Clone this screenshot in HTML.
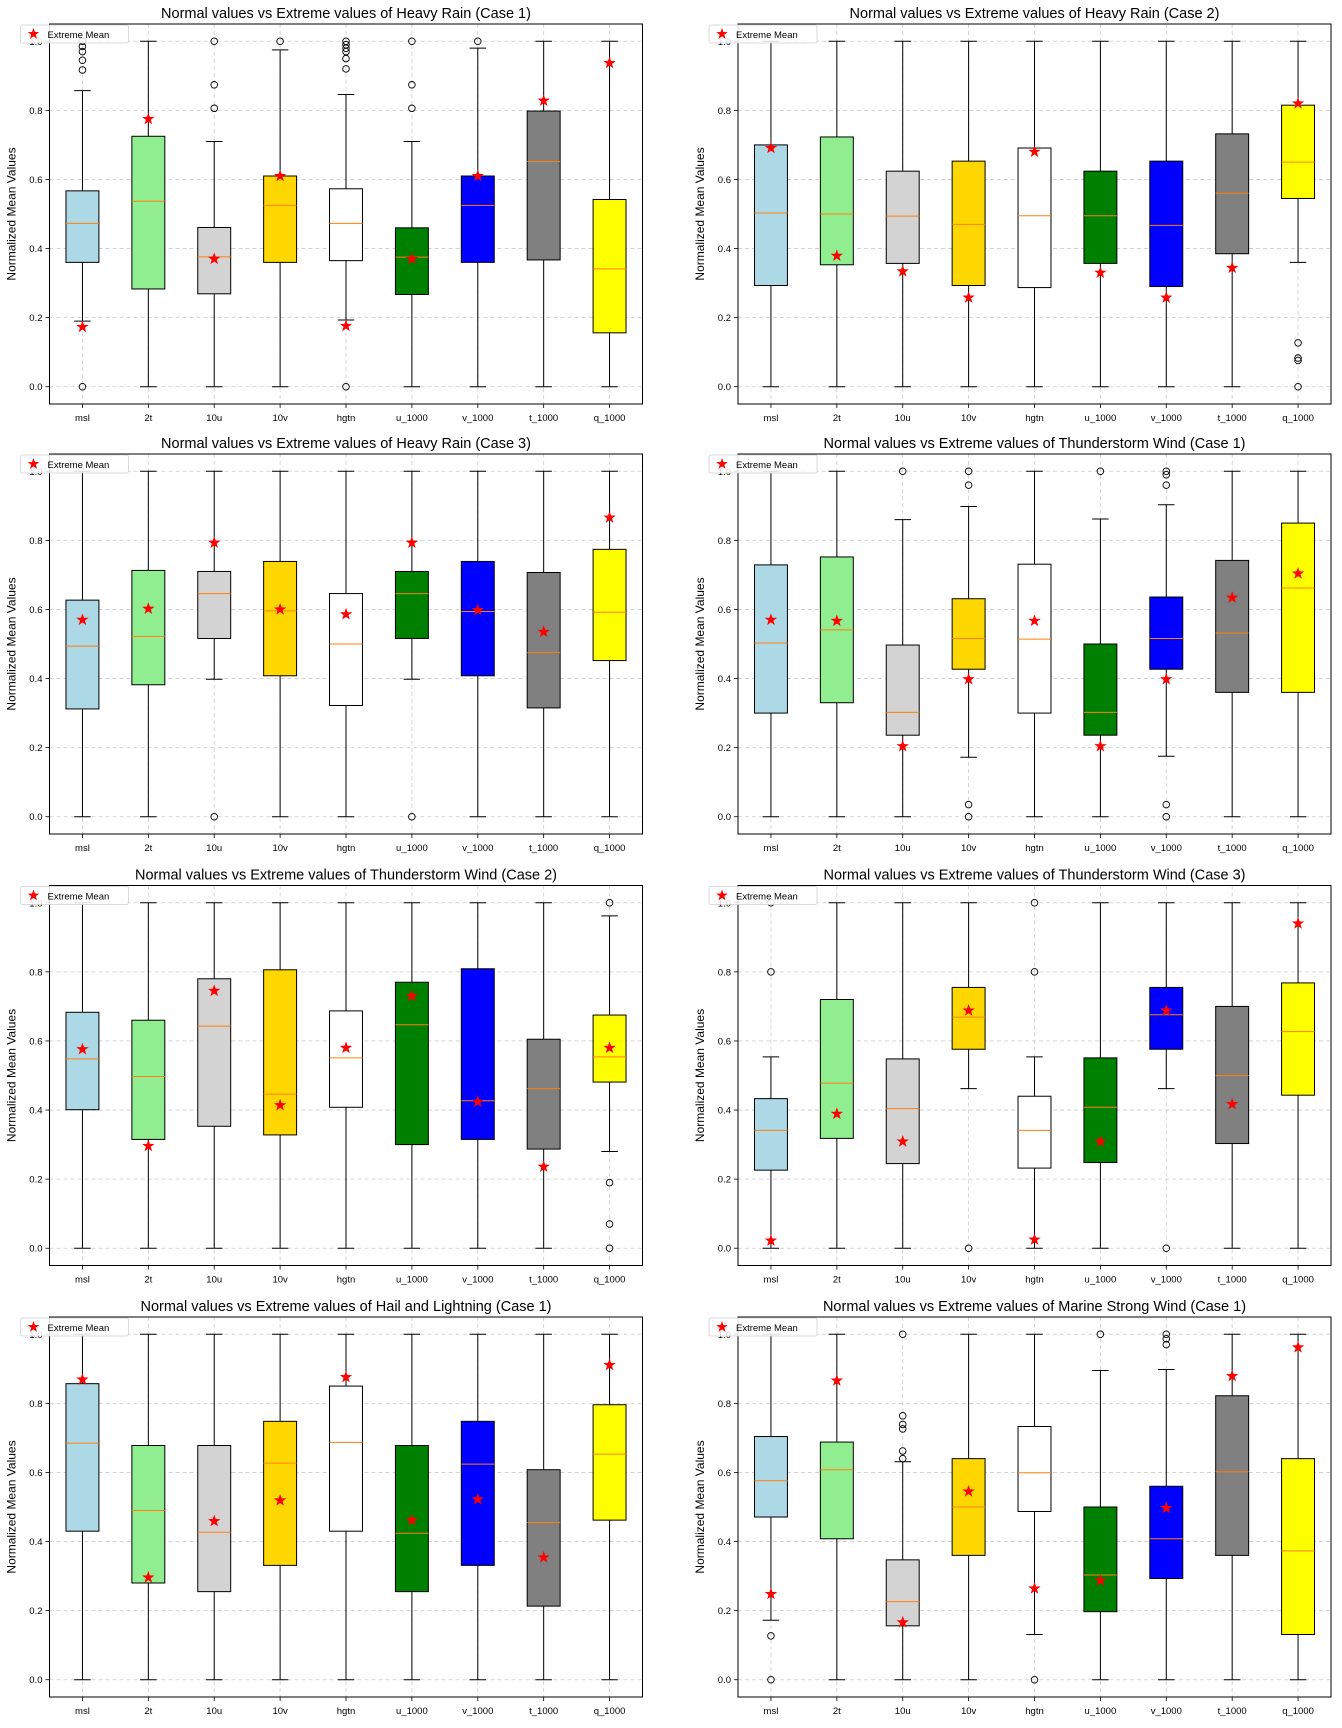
<!DOCTYPE html>
<html><head><meta charset="utf-8">
<style>
html,body{margin:0;padding:0;background:#fff;}
svg{display:block;font-family:"Liberation Sans","DejaVu Sans",sans-serif;}
</style></head>
<body>
<svg id="fig" width="1342" height="1728" viewBox="0 0 1342 1728" xmlns="http://www.w3.org/2000/svg"></svg>
<script>
const categories = ["msl","2t","10u","10v","hgtn","u_1000","v_1000","t_1000","q_1000"];
const boxColors = ["lightblue","lightgreen","lightgray","gold","white","green","blue","gray","yellow"];
const titles = [
 "Normal values vs Extreme values of Heavy Rain (Case 1)",
 "Normal values vs Extreme values of Heavy Rain (Case 2)",
 "Normal values vs Extreme values of Heavy Rain (Case 3)",
 "Normal values vs Extreme values of Thunderstorm Wind (Case 1)",
 "Normal values vs Extreme values of Thunderstorm Wind (Case 2)",
 "Normal values vs Extreme values of Thunderstorm Wind (Case 3)",
 "Normal values vs Extreme values of Hail and Lightning (Case 1)",
 "Normal values vs Extreme values of Marine Strong Wind (Case 1)"
];
const yTicks = [0,0.2,0.4,0.6,0.8,1.0];
const yTickLabels = ["0.0","0.2","0.4","0.6","0.8","1.0"];
const q1Values = [
 [0.36,0.283,0.269,0.36,0.365,0.267,0.36,0.367,0.156],
 [0.293,0.353,0.357,0.293,0.287,0.357,0.29,0.385,0.545],
 [0.312,0.382,0.516,0.408,0.322,0.516,0.408,0.315,0.452],
 [0.3,0.33,0.236,0.427,0.3,0.236,0.427,0.36,0.36],
 [0.401,0.315,0.353,0.328,0.408,0.3,0.315,0.287,0.481],
 [0.226,0.318,0.245,0.576,0.232,0.248,0.576,0.303,0.443],
 [0.43,0.28,0.255,0.331,0.43,0.255,0.331,0.213,0.462],
 [0.471,0.408,0.156,0.36,0.487,0.197,0.293,0.36,0.131]
];
const medianValues = [
 [0.473,0.537,0.376,0.525,0.473,0.375,0.525,0.652,0.341],
 [0.503,0.5,0.494,0.47,0.495,0.495,0.467,0.56,0.65],
 [0.494,0.522,0.646,0.596,0.5,0.646,0.594,0.475,0.592],
 [0.503,0.541,0.302,0.516,0.514,0.302,0.516,0.532,0.662],
 [0.548,0.497,0.643,0.446,0.551,0.647,0.427,0.462,0.554],
 [0.341,0.478,0.404,0.669,0.341,0.408,0.676,0.5,0.627],
 [0.685,0.49,0.427,0.627,0.687,0.424,0.624,0.455,0.653],
 [0.576,0.608,0.226,0.5,0.599,0.303,0.408,0.602,0.373]
];
const q3Values = [
 [0.567,0.725,0.461,0.61,0.573,0.46,0.61,0.798,0.542],
 [0.70,0.723,0.624,0.653,0.691,0.624,0.653,0.732,0.815],
 [0.627,0.713,0.71,0.739,0.646,0.71,0.739,0.707,0.774],
 [0.729,0.752,0.497,0.631,0.731,0.5,0.636,0.742,0.85],
 [0.683,0.66,0.78,0.806,0.687,0.77,0.809,0.605,0.675],
 [0.433,0.72,0.548,0.755,0.44,0.551,0.755,0.7,0.768],
 [0.857,0.678,0.678,0.748,0.85,0.678,0.748,0.608,0.796],
 [0.704,0.688,0.347,0.64,0.733,0.5,0.56,0.822,0.64]
];
const whiskerLow = [
 [0.19,0,0,0,0.193,0,0,0,0],
 [0,0,0,0,0,0,0,0,0.36],
 [0,0,0.398,0,0,0.398,0,0,0],
 [0,0,0,0.172,0,0,0.175,0,0],
 [0,0,0,0,0,0,0,0,0.28],
 [0,0,0,0.462,0,0,0.462,0,0],
 [0,0,0,0,0,0,0,0,0],
 [0.172,0,0,0,0.131,0,0,0,0]
];
const whiskerHigh = [
 [0.857,1,0.71,0.975,0.846,0.71,0.98,1,1],
 [1,1,1,1,1,1,1,1,1],
 [1,1,1,1,1,1,1,1,1],
 [1,1,0.86,0.898,1,0.862,0.903,1,1],
 [1,1,1,1,1,1,1,1,0.962],
 [0.554,1,1,1,0.554,1,1,1,1],
 [1,1,1,1,1,1,1,1,1],
 [1,1,0.631,1,1,0.895,0.898,1,1]
];
const outlierValues = [
 [[0,0.917,0.945,0.97,0.985,1.0],[],[0.806,0.874,1.0],[1.0],[0,0.92,0.95,0.97,0.98,0.99,1.0],[0.806,0.874,1.0],[1.0],[],[]],
 [[],[],[],[],[],[],[],[],[0.127,0.083,0.076,0]],
 [[],[],[0],[],[],[0],[],[],[]],
 [[],[],[1.0],[1.0,0.96,0.035,0],[],[1.0],[1.0,0.99,0.96,0.035,0],[],[]],
 [[],[],[],[],[],[],[],[],[1.0,0.19,0.07,0]],
 [[1.0,0.8],[],[],[0],[1.0,0.8],[],[0],[],[]],
 [[],[],[],[],[],[],[],[],[]],
 [[0.127,0],[],[1.0,0.764,0.739,0.726,0.662,0.64],[],[0],[1.0],[1.0,0.987,0.97],[],[]]
];
const extremeMeans = [
 [0.173,0.775,0.37,0.61,0.176,0.37,0.61,0.828,0.937],
 [0.691,0.379,0.334,0.258,0.68,0.33,0.258,0.344,0.82],
 [0.57,0.602,0.793,0.6,0.586,0.793,0.598,0.535,0.866],
 [0.57,0.567,0.204,0.398,0.567,0.204,0.398,0.634,0.704],
 [0.576,0.296,0.745,0.414,0.58,0.73,0.424,0.236,0.58],
 [0.022,0.389,0.309,0.688,0.025,0.309,0.688,0.417,0.94],
 [0.869,0.296,0.459,0.519,0.876,0.462,0.522,0.354,0.911],
 [0.248,0.866,0.166,0.545,0.264,0.287,0.497,0.879,0.962]
];

const NS="http://www.w3.org/2000/svg";
const svg=document.getElementById('fig');
function mk(tag,attrs,parent){const e=document.createElementNS(NS,tag);for(const k in attrs)e.setAttribute(k,attrs[k]);(parent||svg).appendChild(e);return e;}
function starPath(cx,cy,R){const r=R*0.4;let d='';for(let i=0;i<10;i++){const a=-Math.PI/2+i*Math.PI/5;const rr=i%2?r:R;d+=(i?'L':'M')+(cx+rr*Math.cos(a)).toFixed(2)+' '+(cy+rr*Math.sin(a)).toFixed(2);}return d+'Z';}

const colX=[49.5,738];
const axW=593;
const rowY=[24,454,885.5,1317];
const axH=380;

for(let p=0;p<8;p++){
  const L=colX[p%2], T=rowY[Math.floor(p/2)];
  const g=mk('g',{});
  
  
  const xs=i=>L+axW*((i+1)-0.5)/9;
  const ys=v=>T+axH*(1.05-v)/1.1;
  const bw=axW/9*0.5;
  // grid
  yTicks.forEach((t,k)=>{
    const gl=mk('line',{x1:L,x2:L+axW,y1:ys(t),y2:ys(t),stroke:'#cccccc','stroke-width':0.8,'stroke-dasharray':'4,3'},g);
    
    
    mk('line',{x1:L-4,x2:L,y1:ys(t),y2:ys(t),stroke:'#000','stroke-width':0.8},g);
    const tl=mk('text',{x:L-7,y:ys(t)+3.5,'text-anchor':'end','font-size':9.5,fill:'#000'},g);
    tl.textContent=yTickLabels[k];
    
    
  });
  categories.forEach((c,i)=>{
    const gl=mk('line',{x1:xs(i),x2:xs(i),y1:T,y2:T+axH,stroke:'#cccccc','stroke-width':0.8,'stroke-dasharray':'4,3'},g);
    
    
    mk('line',{x1:xs(i),x2:xs(i),y1:T+axH,y2:T+axH+4,stroke:'#000','stroke-width':0.8},g);
    const tl=mk('text',{x:xs(i),y:T+axH+17,'text-anchor':'middle','font-size':9.5,fill:'#000'},g);
    tl.textContent=c;
    
    
  });
  // boxes
  categories.forEach((c,i)=>{
    const bg=mk('g',{},g);
    
    
    const x=xs(i);
    mk('line',{x1:x,x2:x,y1:ys(whiskerLow[p][i]),y2:ys(q1Values[p][i]),stroke:'#000','stroke-width':1},bg);
    mk('line',{x1:x,x2:x,y1:ys(q3Values[p][i]),y2:ys(whiskerHigh[p][i]),stroke:'#000','stroke-width':1},bg);
    mk('line',{x1:x-bw/4,x2:x+bw/4,y1:ys(whiskerLow[p][i]),y2:ys(whiskerLow[p][i]),stroke:'#000','stroke-width':1},bg);
    mk('line',{x1:x-bw/4,x2:x+bw/4,y1:ys(whiskerHigh[p][i]),y2:ys(whiskerHigh[p][i]),stroke:'#000','stroke-width':1},bg);
    mk('rect',{x:x-bw/2,y:ys(q3Values[p][i]),width:bw,height:ys(q1Values[p][i])-ys(q3Values[p][i]),fill:boxColors[i],stroke:'#000','stroke-width':1},bg);
    mk('line',{x1:x-bw/2,x2:x+bw/2,y1:ys(medianValues[p][i]),y2:ys(medianValues[p][i]),stroke:'#ff7f0e','stroke-width':1},bg);
    outlierValues[p][i].forEach(v=>{
      const o=mk('circle',{cx:x,cy:ys(v),r:3.3,fill:'none',stroke:'#000','stroke-width':0.9},bg);
      
      
    });
  });
  categories.forEach((c,i)=>{
    const s=mk('path',{d:starPath(xs(i),ys(extremeMeans[p][i]),6.5),fill:'red'},g);
    
    
  });
  // frame
  const fr=mk('rect',{x:L,y:T,width:axW,height:axH,fill:'none',stroke:'#000','stroke-width':1},g);
  
  
  // title
  const tt=mk('text',{x:L+axW/2,y:T-6,'text-anchor':'middle','font-size':14.5,fill:'#000'},g);
  tt.textContent=titles[p];
  
  
  // y label
  const yl=mk('text',{x:0,y:0,'text-anchor':'middle','font-size':12,fill:'#000',transform:'translate('+(L-34)+','+(T+axH/2)+') rotate(-90)'},g);
  yl.textContent='Normalized Mean Values';
  
  
  // legend
  const lg=mk('g',{},g);
  
  
  mk('rect',{x:L-29,y:T+1,width:108,height:18,rx:2,fill:'rgba(255,255,255,0.85)',stroke:'#d0d0d0','stroke-width':0.8},lg);
  mk('path',{d:starPath(L-16,T+10,6),fill:'red'},lg);
  const lt=mk('text',{x:L-2,y:T+14,'font-size':9.5,fill:'#000'},lg);
  lt.textContent='Extreme Mean';
  
  
}
</script>
</body></html>
